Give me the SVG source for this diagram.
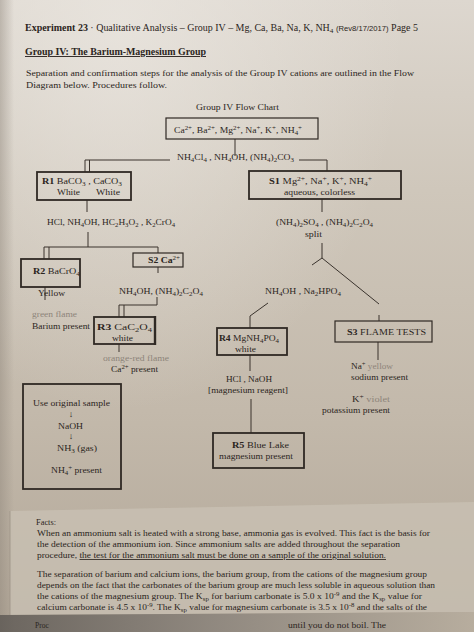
<svg xmlns="http://www.w3.org/2000/svg" width="474" height="632" viewBox="0 0 474 632">
<defs>
<linearGradient id="bg" x1="0" y1="0" x2="0" y2="1">
<stop offset="0" stop-color="#ddd7cf"/>
<stop offset="0.3" stop-color="#cfc7bb"/>
<stop offset="0.65" stop-color="#c3b9ab"/>
<stop offset="1" stop-color="#b2a798"/>
</linearGradient>
<radialGradient id="glow" cx="0.25" cy="0.05" r="0.6">
<stop offset="0" stop-color="#ece8e2" stop-opacity="0.7"/>
<stop offset="1" stop-color="#ece8e2" stop-opacity="0"/>
</radialGradient>
<linearGradient id="leftedge" x1="0" y1="0" x2="1" y2="0">
<stop offset="0" stop-color="#8e857a" stop-opacity="0.45"/>
<stop offset="1" stop-color="#8e857a" stop-opacity="0"/>
</linearGradient>
<linearGradient id="band" x1="0" y1="0" x2="1" y2="0">
<stop offset="0" stop-color="#5f5a55"/>
<stop offset="0.45" stop-color="#8a837b"/>
<stop offset="1" stop-color="#b8ae9f"/>
</linearGradient>
<style>
text{font-family:"Liberation Serif","Times New Roman",serif;fill:#2b2521;}
.t{font-size:9px;}
.b{font-weight:bold;}
.g{fill:#8d847a;}
.sub{font-size:72%;baseline-shift:-2px;}
.sup{font-size:72%;baseline-shift:3.5px;}
.c{text-anchor:middle;}
.box{fill:none;stroke:#2f2924;stroke-width:1.2;}
.bx2{fill:none;stroke:#2f2924;stroke-width:1.8;}
#connectors path{fill:none;stroke:#3a332d;stroke-width:1;}
.para{font-size:9px;}
.fact{font-size:8.4px;}
</style>
</defs>

<!-- paper -->
<rect x="0" y="0" width="474" height="632" fill="url(#bg)"/>
<rect x="0" y="0" width="474" height="632" fill="url(#glow)"/>
<rect x="0" y="0" width="14" height="632" fill="url(#leftedge)"/>
<polygon points="10,511 474,502 474,612 10,615" fill="#cac1b4" opacity="0.75"/>
<line x1="10" y1="511" x2="10" y2="615" stroke="#9c9387" stroke-width="0.8"/>
<polygon points="0,615 474,612 474,632 0,632" fill="url(#band)" opacity="0.85"/>

<!-- header -->
<g id="header">
<text x="25" y="31" style="font-size:9.4px" textLength="393" lengthAdjust="spacingAndGlyphs"><tspan class="b">Experiment 23</tspan> · Qualitative Analysis – Group IV – Mg, Ca, Ba, Na, K, NH<tspan class="sub">4</tspan> <tspan style="font-family:'Liberation Sans',Arial,sans-serif;font-size:7.2px">(Rev8/17/2017)</tspan> Page 5</text>
<text x="25" y="55" class="b" style="font-size:9.4px;text-decoration:underline" textLength="181" lengthAdjust="spacingAndGlyphs">Group IV: The Barium-Magnesium Group</text>
<text x="26" y="76" class="para" textLength="388" lengthAdjust="spacingAndGlyphs">Separation and confirmation steps for the analysis of the Group IV cations are outlined in the Flow</text>
<text x="26" y="88" class="para" textLength="141" lengthAdjust="spacingAndGlyphs">Diagram below.  Procedures follow.</text>
<text x="196" y="110" style="font-size:8.6px" textLength="83" lengthAdjust="spacingAndGlyphs">Group IV Flow Chart</text>
</g>

<!-- connectors -->
<g id="connectors">
<path d="M235,139 V156"/>
<path d="M85,160 H170"/>
<path d="M85,160 V172"/>
<path d="M89.5,160 V172"/>
<path d="M299,160 H327 V171"/>
<path d="M87,200 V212"/>
<path d="M322,199 V212"/>
<path d="M88,232 V247"/>
<path d="M44,247 H158"/>
<path d="M44,247 V259"/>
<path d="M49,247 V259"/>
<path d="M158,247 V253"/>
<path d="M158,267 V273"/>
<path d="M45,287 V300"/>
<path d="M322,243 V258"/>
<path d="M322,258 L312,265"/>
<path d="M322,258 L379,304"/>
<path d="M379,315 V321"/>
<path d="M157,297 V305 H119"/>
<path d="M119,305 V317"/>
<path d="M124,305 V317"/>
<path d="M119,344 V352"/>
<path d="M268,303 L250,316 V328"/>
<path d="M250,355 V371"/>
<path d="M251,399 V433"/>
<path d="M378,342 V360"/>
</g>

<!-- nodes -->
<g id="n-start">
<rect x="166" y="118" width="152" height="21" class="box"/>
<text x="174" y="133" class="t" textLength="128" lengthAdjust="spacingAndGlyphs">Ca<tspan class="sup">2+</tspan>, Ba<tspan class="sup">2+</tspan>, Mg<tspan class="sup">2+</tspan>, Na<tspan class="sup">+</tspan>, K<tspan class="sup">+</tspan>, NH<tspan class="sub">4</tspan><tspan class="sup">+</tspan></text>
</g>

<g id="lbl-reagent1">
<text x="177" y="160" class="t" textLength="117" lengthAdjust="spacingAndGlyphs">NH<tspan class="sub">4</tspan>Cl<tspan class="sub">4</tspan> , NH<tspan class="sub">4</tspan>OH, (NH<tspan class="sub">4</tspan>)<tspan class="sub">2</tspan>CO<tspan class="sub">3</tspan></text>
</g>

<g id="n-r1">
<rect x="37" y="172" width="94" height="28" class="bx2"/>
<text x="42" y="184" class="t" textLength="80" lengthAdjust="spacingAndGlyphs"><tspan class="b">R1</tspan>  BaCO<tspan class="sub">3</tspan> , CaCO<tspan class="sub">3</tspan></text>
<text x="57" y="195" class="t" textLength="23" lengthAdjust="spacingAndGlyphs">White</text>
<text x="96" y="195" class="t" textLength="24" lengthAdjust="spacingAndGlyphs">White</text>
</g>

<g id="n-s1">
<rect x="249" y="171" width="152" height="28" class="bx2"/>
<text x="269" y="184" class="t" textLength="103" lengthAdjust="spacingAndGlyphs"><tspan class="b">S1</tspan>   Mg<tspan class="sup">2+</tspan>, Na<tspan class="sup">+</tspan>, K<tspan class="sup">+</tspan>, NH<tspan class="sub">4</tspan><tspan class="sup">+</tspan></text>
<text x="284" y="195" class="t" textLength="71" lengthAdjust="spacingAndGlyphs">aqueous, colorless</text>
</g>

<g id="lbl-reagent2">
<text x="47" y="225" class="t" textLength="128" lengthAdjust="spacingAndGlyphs">HCl, NH<tspan class="sub">4</tspan>OH, HC<tspan class="sub">2</tspan>H<tspan class="sub">3</tspan>O<tspan class="sub">2</tspan> , K<tspan class="sub">2</tspan>CrO<tspan class="sub">4</tspan></text>
</g>

<g id="lbl-reagent3">
<text x="276" y="225" class="t" textLength="97" lengthAdjust="spacingAndGlyphs">(NH<tspan class="sub">4</tspan>)<tspan class="sub">2</tspan>SO<tspan class="sub">4</tspan> , (NH<tspan class="sub">4</tspan>)<tspan class="sub">2</tspan>C<tspan class="sub">2</tspan>O<tspan class="sub">4</tspan></text>
<text x="305" y="237" class="t" textLength="17" lengthAdjust="spacingAndGlyphs">split</text>
</g>

<g id="n-r2">
<rect x="21" y="259" width="59" height="28" class="bx2"/>
<text x="33" y="274" class="t" textLength="47" lengthAdjust="spacingAndGlyphs"><tspan class="b">R2</tspan> BaCrO<tspan class="sub">4</tspan></text>
</g>

<g id="lbl-yellow">
<text x="38" y="296" class="t" textLength="27" lengthAdjust="spacingAndGlyphs">Yellow</text>
</g>

<g id="n-s2">
<rect x="133" y="253" width="50" height="14" class="box"/>
<text x="148" y="263" class="t" textLength="32" lengthAdjust="spacingAndGlyphs"><tspan class="b">S2 Ca</tspan><tspan class="sup">2+</tspan></text>
</g>

<g id="lbl-reagent4">
<text x="119" y="294" class="t" textLength="84" lengthAdjust="spacingAndGlyphs">NH<tspan class="sub">4</tspan>OH, (NH<tspan class="sub">4</tspan>)<tspan class="sub">2</tspan>C<tspan class="sub">2</tspan>O<tspan class="sub">4</tspan></text>
</g>

<g id="lbl-reagent5">
<text x="265" y="294" class="t" textLength="76" lengthAdjust="spacingAndGlyphs">NH<tspan class="sub">4</tspan>OH , Na<tspan class="sub">2</tspan>HPO<tspan class="sub">4</tspan></text>
</g>

<g id="lbl-barium">
<text x="32" y="317" class="t g" textLength="45" lengthAdjust="spacingAndGlyphs">green flame</text>
<text x="32" y="329" class="t" textLength="58" lengthAdjust="spacingAndGlyphs">Barium present</text>
</g>

<g id="n-r3">
<rect x="94" y="317" width="61" height="27" class="bx2"/>
<line x1="155" y1="316" x2="155" y2="345" stroke="#2f2924" stroke-width="2.4"/>
<text x="97" y="330" class="t" textLength="55" lengthAdjust="spacingAndGlyphs"><tspan class="b">R3</tspan>  CaC<tspan class="sub">2</tspan>O<tspan class="sub">4</tspan></text>
<text x="112" y="341" class="t" textLength="21" lengthAdjust="spacingAndGlyphs">white</text>
</g>

<g id="lbl-calcium">
<text x="103" y="361" class="t g" textLength="66" lengthAdjust="spacingAndGlyphs">orange-red flame</text>
<text x="111" y="372" class="t" textLength="47" lengthAdjust="spacingAndGlyphs">Ca<tspan class="sup">2+</tspan> present</text>
</g>

<g id="n-r4">
<rect x="217" y="328" width="70" height="27" class="bx2"/>
<text x="219" y="341" class="t" textLength="60" lengthAdjust="spacingAndGlyphs"><tspan class="b">R4</tspan>   MgNH<tspan class="sub">4</tspan>PO<tspan class="sub">4</tspan></text>
<text x="235" y="352" class="t" textLength="21" lengthAdjust="spacingAndGlyphs">white</text>
</g>

<g id="lbl-reagent6">
<text x="226" y="382" class="t" textLength="46" lengthAdjust="spacingAndGlyphs">HCl , NaOH</text>
<text x="208" y="393" class="t" textLength="80" lengthAdjust="spacingAndGlyphs">[magnesium reagent]</text>
</g>

<g id="n-r5">
<rect x="213" y="433" width="91" height="35" class="bx2"/>
<text x="232" y="448" class="t" textLength="57" lengthAdjust="spacingAndGlyphs"><tspan class="b">R5</tspan> Blue Lake</text>
<text x="219" y="459" class="t" textLength="74" lengthAdjust="spacingAndGlyphs">magnesium present</text>
</g>

<g id="n-s3">
<rect x="335" y="321" width="97" height="21" class="box"/>
<text x="347" y="335" class="t" textLength="79" lengthAdjust="spacingAndGlyphs"><tspan class="b">S3</tspan>   FLAME TESTS</text>
</g>

<g id="lbl-sodium">
<text x="351" y="369" class="t" textLength="42" lengthAdjust="spacingAndGlyphs">Na<tspan class="sup">+</tspan> <tspan class="g">yellow</tspan></text>
<text x="351" y="380" class="t" textLength="57" lengthAdjust="spacingAndGlyphs">sodium present</text>
</g>

<g id="lbl-potassium">
<text x="352" y="402" class="t" textLength="38" lengthAdjust="spacingAndGlyphs">K<tspan class="sup">+</tspan>   <tspan class="g">violet</tspan></text>
<text x="322" y="413" class="t" textLength="68" lengthAdjust="spacingAndGlyphs">potassium present</text>
</g>

<g id="n-ammonium">
<rect x="23" y="384" width="98" height="105" class="bx2"/>
<text x="33" y="406" class="t" textLength="77" lengthAdjust="spacingAndGlyphs">Use original sample</text>
<text x="71" y="417" class="t c">↓</text>
<text x="58" y="429" class="t" textLength="25" lengthAdjust="spacingAndGlyphs">NaOH</text>
<text x="71" y="439" class="t c">↓</text>
<text x="57" y="451" class="t" textLength="40" lengthAdjust="spacingAndGlyphs">NH<tspan class="sub">3</tspan> (gas)</text>
<text x="51" y="473" class="t" textLength="51" lengthAdjust="spacingAndGlyphs">NH<tspan class="sub">4</tspan><tspan class="sup">+</tspan> present</text>
</g>

<!-- facts -->
<g id="facts">
<text x="36" y="525" class="fact">Facts:</text>
<text x="37" y="536" class="fact" textLength="393" lengthAdjust="spacingAndGlyphs">When an ammonium salt is heated with a strong base, ammonia gas is evolved.  This fact is the basis for</text>
<text x="37" y="547" class="fact" textLength="363" lengthAdjust="spacingAndGlyphs">the detection of the ammonium ion.  Since ammonium salts are added throughout the separation</text>
<text x="37" y="558" class="fact" textLength="349" lengthAdjust="spacingAndGlyphs">procedure, <tspan text-decoration="underline">the test for the ammonium salt must be done on a sample of the original solution.</tspan></text>
</g>
<g id="facts2">
<text x="37" y="577" class="fact" textLength="390" lengthAdjust="spacingAndGlyphs">The separation of barium and calcium ions, the barium group, from the cations of the magnesium group</text>
<text x="37" y="588" class="fact" textLength="398" lengthAdjust="spacingAndGlyphs">depends on the fact that the carbonates of the barium group are much less soluble in aqueous solution than</text>
<text x="37" y="599" class="fact" textLength="385" lengthAdjust="spacingAndGlyphs">the cations of the magnesium group.  The K<tspan class="sub">sp</tspan> for barium carbonate is 5.0 x 10<tspan class="sup">-9</tspan> and the K<tspan class="sub">sp</tspan> value for</text>
<text x="37" y="610" class="fact" textLength="390" lengthAdjust="spacingAndGlyphs">calcium carbonate is 4.5 x 10<tspan class="sup">-9</tspan>.  The K<tspan class="sub">sp</tspan> value for magnesium carbonate is 3.5 x 10<tspan class="sup">-8</tspan> and the salts of the</text>
</g>
<g id="cutoff">
<text x="35" y="628" style="font-size:7.5px">Proc</text>
<text x="288" y="628" style="font-size:7.5px" textLength="98" lengthAdjust="spacingAndGlyphs">until you do not boil.  The</text>
</g>
</svg>
